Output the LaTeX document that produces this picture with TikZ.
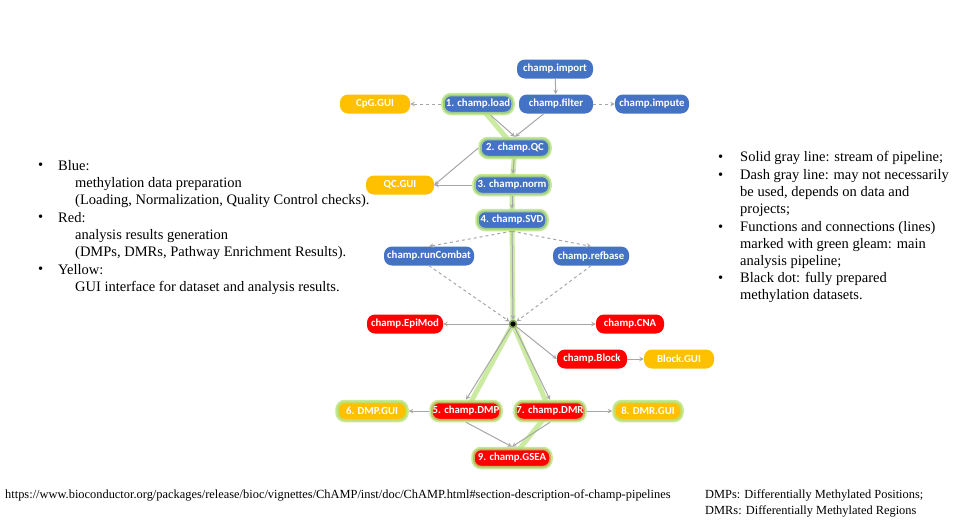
\documentclass[tikz,border=0pt]{standalone}
\usepackage{fontspec}
\setmainfont{Liberation Serif}
\newfontfamily\nodefont{Carlito}
\definecolor{nb}{HTML}{4472C4}
\definecolor{ny}{HTML}{FFC000}
\definecolor{ng}{HTML}{B6E37A}
\begin{document}
\begin{tikzpicture}[x=1pt,y=-1pt,
 pill/.style={rounded corners=8pt,minimum height=19pt,inner xsep=3pt,inner ysep=1pt,text=white,font=\nodefont\bfseries\fontsize{10.8}{11}\selectfont},
 blue/.style={pill,fill=nb},
 redn/.style={pill,fill=red},
 yel/.style={pill,fill=ny},
 glow/.style={draw=ng,line width=3.5pt,draw opacity=0.8},
 arr/.style={draw=gray!70,line width=1pt,-stealth},
 darr/.style={arr,dashed},
 gl/.style={draw=ng,line width=5pt,line cap=round,draw opacity=0.7},
 txt/.style={font=\fontsize{14.5}{17.2}\selectfont,anchor=west,align=left,inner sep=0pt}]
\useasboundingbox (0,0) rectangle (974,520);
% glow edges
\draw[gl] (478,104)--(515,148)--(512,185)--(512,220)--(513,324);
\draw[gl] (466,411)--(513,324)--(550,411);
\draw[gl] (550,411)--(512,458);
% nodes
\node[blue] (imp) at (555,69) {\makebox[70pt]{champ.import}};
\node[blue,glow] (load) at (478,104) {\makebox[64pt]{1. champ.load}};
\node[blue] (fil) at (556,104) {\makebox[68pt]{champ.filter}};
\node[blue] (imput) at (652,104) {\makebox[68pt]{champ.impute}};
\node[yel] (cpg) at (375,104) {\makebox[64pt]{CpG.GUI}};
\node[blue,glow] (qc) at (515,148) {\makebox[64pt]{2. champ.QC}};
\node[yel] (qcg) at (400,185) {\makebox[62pt]{QC.GUI}};
\node[blue,glow] (norm) at (512,185) {\makebox[70pt]{3. champ.norm}};
\node[blue,glow] (svd) at (512,220) {\makebox[64pt]{4. champ.SVD}};
\node[blue] (rc) at (429,256) {\makebox[84pt]{champ.runCombat}};
\node[blue] (rb) at (591,256) {\makebox[70pt]{champ.refbase}};
\node[circle,fill=black,inner sep=0pt,minimum size=7pt,draw=ng!70!black,line width=1.5pt] (dot) at (513,324) {};
\node[redn] (epi) at (405,324) {\makebox[70pt]{champ.EpiMod}};
\node[redn] (cna) at (630,324) {\makebox[62pt]{champ.CNA}};
\node[redn] (blk) at (592,359) {\makebox[64pt]{champ.Block}};
\node[yel] (blkg) at (679,359) {\makebox[64pt]{Block.GUI}};
\node[redn,glow] (dmp) at (466,411) {\makebox[64pt]{5. champ.DMP}};
\node[redn,glow] (dmr) at (550,411) {\makebox[64pt]{7. champ.DMR}};
\node[yel,glow] (dmpg) at (372,411) {\makebox[64pt]{6. DMP.GUI}};
\node[yel,glow] (dmrg) at (648,411) {\makebox[62pt]{8. DMR.GUI}};
\node[redn,glow] (gsea) at (512,458) {\makebox[72pt]{9. champ.GSEA}};
% edges
\draw[arr] (imp)--(fil);
\draw[darr] (load)--(cpg);
\draw[darr] (fil)--(imput);
\draw[arr] (load)--(qc.north);
\draw[arr] (fil)--(qc.north);
\draw[arr] (qc.west)--(qcg.east);
\draw[arr] (norm)--(qcg);
\draw[arr] (qc)--(norm);
\draw[arr] (norm)--(svd);
\draw[darr] (svd.south)--(rc.north);
\draw[darr] (svd.south)--(rb.north);
\draw[darr] (rc.south)--(dot);
\draw[darr] (rb.south)--(dot);
\draw[arr] (svd)--(dot);
\draw[arr] (dot)--(epi);
\draw[arr] (dot)--(cna);
\draw[arr] (dot)--(blk.west);
\draw[arr] (blk)--(blkg);
\draw[arr] (dot)--(dmp.north);
\draw[arr] (dot)--(dmr.north);
\draw[arr] (dmp)--(dmpg);
\draw[arr] (dmr)--(dmrg);
\draw[arr] (dmp.south)--(gsea.north);
\draw[arr] (dmr.south)--(gsea.north);
% left text
\foreach \y in {166,218,270} \node[txt] (b\y) at (38,\y) {•};
\node[txt] (t1) at (58,166) {Blue:};
\node[txt] (t2) at (75,184) {methylation data preparation};
\node[txt] (t3) at (75,201) {(Loading, Normalization, Quality Control checks).};
\node[txt] (t4) at (58,218) {Red:};
\node[txt] (t5) at (75,236) {analysis results generation};
\node[txt] (t6) at (75,253) {(DMPs, DMRs, Pathway Enrichment Results).};
\node[txt] (t7) at (58,270) {Yellow:};
\node[txt] (t8) at (75,288) {GUI interface for dataset and analysis results.};
% right text
\foreach \y in {158,176,228,279} \node[txt] (r\y) at (718,\y) {•};
\node[txt] (s1) at (740,158) {Solid gray line: stream of pipeline;};
\node[txt,anchor=north west] (s2) at (740,169) {Dash gray line: may not necessarily\\be used, depends on data and\\projects;};
\node[txt,anchor=north west] (s3) at (740,221) {Functions and connections (lines)\\marked with green gleam: main\\analysis pipeline;};
\node[txt,anchor=north west] (s4) at (740,272) {Black dot: fully prepared\\methylation datasets.};
% bottom
\node[txt,font=\fontsize{12.4}{14}\selectfont] (url) at (5,495) {https://www.bioconductor.org/packages/release/bioc/vignettes/ChAMP/inst/doc/ChAMP.html\#section-description-of-champ-pipelines};
\node[txt,font=\fontsize{12.4}{14}\selectfont] (d1) at (705,495) {DMPs: Differentially Methylated Positions;};
\node[txt,font=\fontsize{12.4}{14}\selectfont] (d2) at (705,511) {DMRs: Differentially Methylated Regions};
\end{tikzpicture}
\end{document}
